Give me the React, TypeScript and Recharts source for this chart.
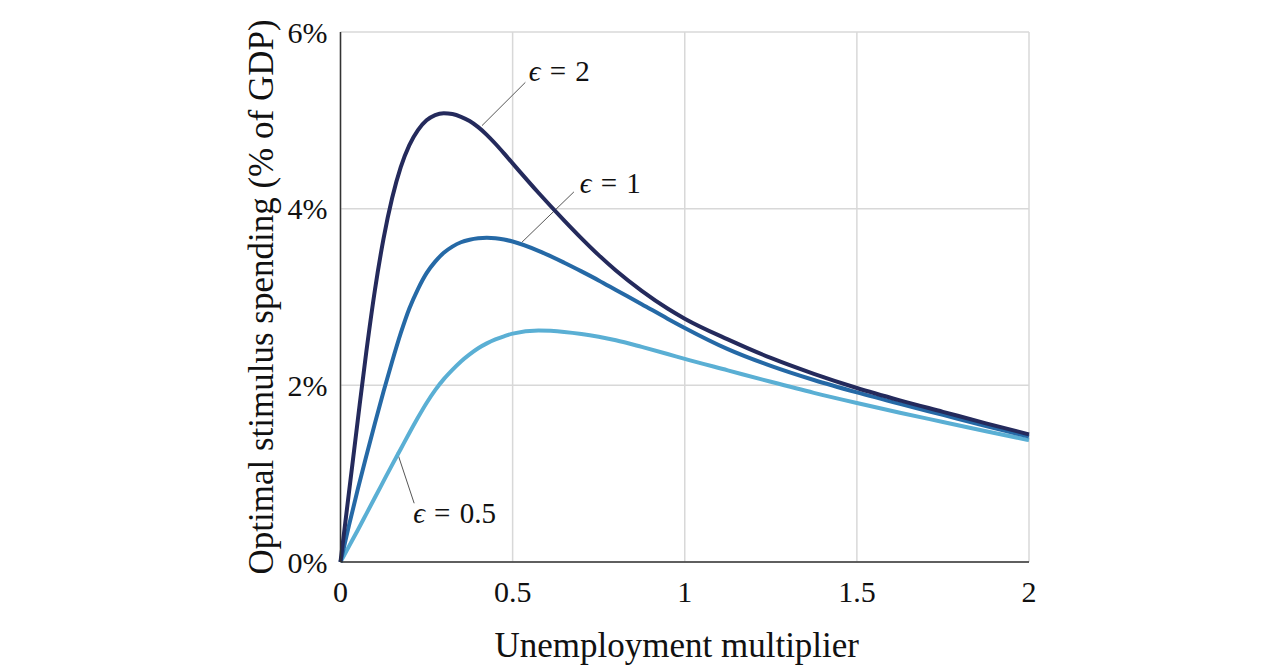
import React from 'react'
import {
  LineChart,
  Line,
  XAxis,
  YAxis,
  CartesianGrid,
  ReferenceLine,
  ReferenceDot,
  Label,
} from 'recharts'

const multiplier = [0, 0.025, 0.05, 0.075, 0.1, 0.125, 0.15, 0.175, 0.2, 0.225, 0.25, 0.275, 0.3, 0.325, 0.35, 0.375, 0.4, 0.425, 0.45, 0.475, 0.5, 0.575, 0.65, 0.7, 0.75, 0.8, 0.875, 0.95, 1, 1.125, 1.25, 1.375, 1.5, 1.625, 1.75, 1.875, 2]
const eps2 = [0, 0.8, 1.6, 2.38, 3.08, 3.66, 4.12, 4.47, 4.72, 4.89, 5.0, 5.06, 5.08, 5.071, 5.04, 4.992, 4.923, 4.836, 4.735, 4.626, 4.513, 4.18, 3.865, 3.664, 3.474, 3.3, 3.07, 2.87, 2.755, 2.52, 2.31, 2.13, 1.97, 1.83, 1.7, 1.57, 1.445]
const eps1 = [0, 0.42, 0.82, 1.2, 1.57, 1.93, 2.27, 2.59, 2.87, 3.09, 3.27, 3.4, 3.5, 3.57, 3.62, 3.648, 3.664, 3.67, 3.665, 3.65, 3.628, 3.523, 3.388, 3.29, 3.188, 3.08, 2.919, 2.755, 2.65, 2.41, 2.22, 2.06, 1.92, 1.79, 1.665, 1.54, 1.42]
const eps05 = [0, 0.18, 0.36, 0.545, 0.73, 0.915, 1.1, 1.28, 1.46, 1.635, 1.8, 1.945, 2.07, 2.175, 2.27, 2.35, 2.42, 2.475, 2.52, 2.555, 2.585, 2.62, 2.605, 2.582, 2.55, 2.51, 2.435, 2.355, 2.3, 2.17, 2.04, 1.915, 1.8, 1.69, 1.585, 1.48, 1.38]

const xTicks = [0, 0.5, 1, 1.5, 2]
const yTicks = [0, 2, 4, 6]

// leader lines and label anchors, in data units
const notes = [
  { text: '= 2', from: { x: 0.411, y: 4.94 }, to: { x: 0.537, y: 5.43 }, at: { x: 0.547, y: 5.44 } },
  { text: '= 1', from: { x: 0.527, y: 3.62 }, to: { x: 0.678, y: 4.19 }, at: { x: 0.695, y: 4.18 } },
  { text: '= 0.5', from: { x: 0.165, y: 1.24 }, to: { x: 0.214, y: 0.665 }, at: { x: 0.211, y: 0.44 } },
]

const data = multiplier.map((m, i) => ({ m, e2: eps2[i], e1: eps1[i], e05: eps05[i] }))

const font = '"Liberation Serif", "Times New Roman", serif'
const tickStyle = { fontSize: 30, fontFamily: font, fill: '#111' }
const noteStyle = { fontSize: 29, fontFamily: font, fill: '#111' }

function XTick({ x, y, payload }: any) {
  return (
    <text x={x} y={y} dy="0.71em" textAnchor="middle" style={tickStyle}>
      {String(payload.value)}
    </text>
  )
}

function YTick({ x, y, payload }: any) {
  return (
    <text x={x} y={y} dy="0.355em" textAnchor="end" style={tickStyle}>
      {`${payload.value}%`}
    </text>
  )
}

export default function App() {
  return (
    <div style={{ position: 'absolute', left: 0, top: 0, width: 1280, height: 670, background: '#fff' }}>
      <LineChart width={1280} height={670} data={data} margin={{ top: 32, right: 251, bottom: 0, left: 240.5 }}>
        <CartesianGrid stroke="#d8d8d8" strokeWidth={1.5} />
        <XAxis
          dataKey="m"
          type="number"
          domain={[0, 2]}
          ticks={xTicks}
          tick={<XTick />}
          tickLine={false}
          tickSize={0}
          tickMargin={19}
          axisLine={{ stroke: '#333', strokeWidth: 1.5 }}
          height={108}
        >
          <Label
            value="Unemployment multiplier"
            position="insideBottom"
            offset={13}
            dx={-8}
            style={{ fontSize: 35, fontFamily: font, fill: '#111' }}
          />
        </XAxis>
        <YAxis
          type="number"
          domain={[0, 6]}
          ticks={yTicks}
          tick={<YTick />}
          tickLine={false}
          tickSize={0}
          tickMargin={13}
          axisLine={{ stroke: '#333', strokeWidth: 1.5 }}
          width={100}
        >
          <Label
            value="Optimal stimulus spending (% of GDP)"
            angle={-90}
            position="insideLeft"
            offset={20}
            style={{ fontSize: 35, fontFamily: font, fill: '#111', textAnchor: 'middle' }}
          />
        </YAxis>
        {notes.map(n => (
          <ReferenceLine key={n.text} segment={[n.from, n.to]} stroke="#555" strokeWidth={1} />
        ))}
        {notes.map(n => (
          <ReferenceDot
            key={'t' + n.text}
            x={n.at.x}
            y={n.at.y}
            r={0}
            shape={(p: any) => (
              <text x={p.cx} y={p.cy} style={noteStyle} wordSpacing={2}>
                <tspan fontStyle="italic">ϵ</tspan> {n.text}
              </text>
            )}
          />
        ))}
        <Line type="monotone" dataKey="e05" stroke="#5aafd4" strokeWidth={4} dot={false} isAnimationActive={false} />
        <Line type="monotone" dataKey="e1" stroke="#2569a6" strokeWidth={4} dot={false} isAnimationActive={false} />
        <Line type="monotone" dataKey="e2" stroke="#242a5c" strokeWidth={4} dot={false} isAnimationActive={false} />
      </LineChart>
    </div>
  )
}
